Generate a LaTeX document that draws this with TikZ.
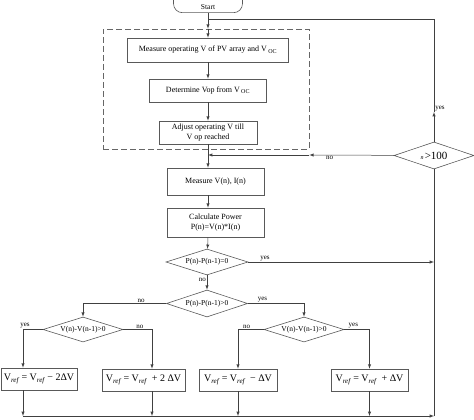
\documentclass[tikz,border=0pt]{standalone}
\usepackage{fontspec}
\setmainfont{Liberation Serif}
\usetikzlibrary{shapes.geometric}

\begin{document}
\begin{tikzpicture}[x=1pt, y=-1pt,
        block/.style={rectangle, draw=black!65, line width=0.6pt, align=center, inner sep=1pt, font=\fontsize{8}{9.5}\selectfont},
        update/.style={block, minimum height=22pt, font=\fontsize{10}{12}\selectfont},
        decision/.style={diamond, aspect=3.2, draw=black!65, line width=0.6pt, align=center, inner sep=0pt, font=\fontsize{7.5}{9}\selectfont},
        startbox/.style={rectangle, rounded corners=9pt, draw=black!65, line width=0.6pt, minimum width=69pt, text height=17pt, text depth=0pt, inner ysep=3pt, anchor=south, font=\fontsize{7.5}{9}\selectfont},
        groupbox/.style={rectangle, draw=black!60, line width=0.6pt, dash pattern=on 6pt off 3pt, minimum width=206pt, minimum height=120pt},
        wire/.style={draw=black!75, line width=0.5pt},
        arrow/.style={wire, ->, >=latex},
        lbl/.style={inner sep=1pt, font=\fontsize{7}{8}\selectfont}
    ]
        \useasboundingbox (0,0) rectangle (474,420);

        % Start and initial operating point
        \node[startbox] (start) at (208,13) {Start};
        \node[groupbox] (group) at (206,89) {};
        \node[block, minimum width=161pt, minimum height=24pt] (measop) at (208,50) {Measure operating V of PV array and V\,\textsubscript{OC}};
        \node[block, minimum width=117pt, minimum height=23pt] (detvop) at (208,90.5) {Determine Vop from V\,\textsubscript{OC}};
        \node[block, minimum width=98pt, minimum height=23pt] (adjust) at (208,132.5) {Adjust operating V till\\V op reached};

        % Main loop
        \node[block, minimum width=97pt, minimum height=27pt] (measure) at (215.5,181.5) {Measure V(n), I(n)};
        \node[block, minimum width=97pt, minimum height=29pt] (power) at (215.5,222.5) {Calculate Power\\P(n)=V(n)*I(n)};
        \node[decision, minimum width=82pt, minimum height=26pt] (dzero) at (207,262) {P(n)-P(n-1)=0};
        \node[decision, minimum width=81pt, minimum height=27pt] (dpos) at (207,303.5) {P(n)-P(n-1)>0};
        \node[decision, minimum width=80pt, minimum height=25pt] (dvleft) at (83,329.5) {V(n)-V(n-1)>0};
        \node[decision, minimum width=80pt, minimum height=25pt] (dvright) at (304,329.5) {V(n)-V(n-1)>0};
        \node[decision, minimum width=80pt, minimum height=27pt] (count) at (434,155.5) {{\fontsize{6}{7}\selectfont\itshape n}\,{\fontsize{11}{12}\selectfont >100}};

        % Reference voltage updates
        \node[update, minimum width=76pt] (decbig) at (39,379) {V\textsubscript{\itshape ref} = V\textsubscript{\itshape ref} − 2ΔV};
        \node[update, minimum width=83pt] (incbig) at (143.5,380) {V\textsubscript{\itshape ref} = V\textsubscript{\itshape ref} \ + 2 ΔV};
        \node[update, minimum width=78pt] (dec) at (238,380) {V\textsubscript{\itshape ref} = V\textsubscript{\itshape ref} \ − ΔV};
        \node[update, minimum width=77pt] (inc) at (369.5,380) {V\textsubscript{\itshape ref} = V\textsubscript{\itshape ref} \ + ΔV};

        % Joints
        \coordinate (top) at (208,19);
        \coordinate (join) at (208,155);
        \coordinate (loop) at (434,112);
        \coordinate (bottom) at (434,416);

        % Connect blocks
        \draw[wire] (start) -- (top);
        \draw[arrow] (top) -- (top |- group.north);
        \draw[arrow] (top |- group.north) -- (measop);
        \draw[arrow] (measop) -- (detvop);
        \draw[arrow] (detvop) -- (adjust);
        \draw[wire] (adjust) -- (join);
        \draw[arrow] (join) -- (join |- measure.north);
        \draw[arrow] (join |- measure.south) -- (join |- power.north);
        \draw[arrow] (join |- power.south) -- (dzero);
        \draw[arrow] (dzero) -- node[lbl, left, pos=0.35] {no} (dpos);
        \draw[arrow] (dzero) -- node[lbl, above, pos=0.09] {yes} (dzero -| bottom);
        \draw[arrow] (dpos) -- node[lbl, above, pos=0.3] {no} (dvleft |- dpos) -- (dvleft);
        \draw[arrow] (dpos) -- node[lbl, above, pos=0.26] {yes} (dvright |- dpos) -- (dvright);
        \draw[arrow] (dvleft) -| node[lbl, above, pos=0.45] {yes} ([xshift=-16pt]decbig.north);
        \draw[arrow] (dvleft) -| node[lbl, above, pos=0.29] {no} ([xshift=8.5pt]incbig.north);
        \draw[arrow] (dvright) -| node[lbl, above, pos=0.33] {no} (dec);
        \draw[arrow] (dvright) -| node[lbl, above, pos=0.18] {yes} (inc);

        % Back to the counter
        \draw[arrow] ([xshift=-16pt]decbig.south) -- ([xshift=-16pt]decbig.south |- bottom);
        \draw[arrow] ([xshift=8.5pt]incbig.south) -- ([xshift=8.5pt]incbig.south |- bottom);
        \draw[arrow] (dec) -- (dec |- bottom);
        \draw[arrow] (inc) -- (inc |- bottom);
        \draw[arrow] ([xshift=-16pt]decbig.south |- bottom) -- (bottom);
        \draw[wire] (bottom) -- (count);
        \draw[arrow] (count) -- node[lbl, above right, pos=1] {yes} (loop);
        \draw[wire] (loop) -- (count |- top) -- (top);
        \draw[arrow] (count) -- node[lbl, below, pos=0.76] {no} (group.east |- join);
        \draw[arrow] (group.east |- join) -- (join);
    \end{tikzpicture}
\end{document}
